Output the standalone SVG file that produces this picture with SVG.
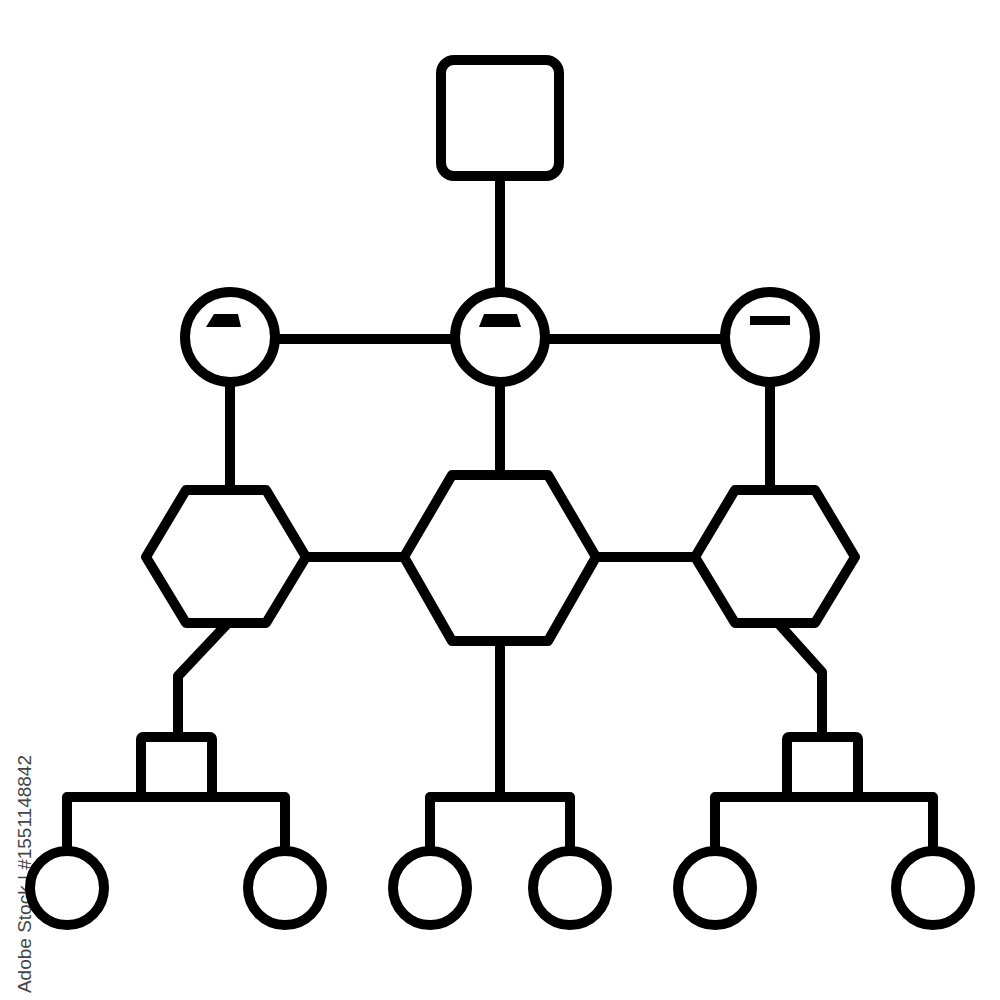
<svg xmlns="http://www.w3.org/2000/svg" width="1000" height="1000" viewBox="0 0 1000 1000">
<style>
.s{fill:none;stroke:#000;stroke-width:10;stroke-linejoin:round;stroke-linecap:round}
.n{fill:#fff;stroke:#000;stroke-width:10;stroke-linejoin:round}
.m{fill:#000;stroke:none}
.wm{font-family:"Liberation Sans",Arial,sans-serif;font-size:19px;fill:#444}
</style>
<rect width="1000" height="1000" fill="#fff"/>
<text class="wm" transform="translate(31,755) rotate(-90)" text-anchor="end">Adobe Stock | #1551148842</text>
<g id="connectors" class="s">
<line x1="500" y1="176" x2="500" y2="295"/>
<line x1="275" y1="339" x2="455" y2="339"/>
<line x1="545" y1="339" x2="725" y2="339"/>
<line x1="230" y1="383" x2="230" y2="490"/>
<line x1="500" y1="383" x2="500" y2="470"/>
<line x1="770" y1="383" x2="770" y2="490"/>
<line x1="306" y1="557" x2="404" y2="557"/>
<line x1="596" y1="557" x2="695" y2="557"/>
<polyline points="228,623 178,676 178,737"/>
<polyline points="778,623 822,672 822,737"/>
<line x1="500" y1="641" x2="500" y2="797"/>
<polyline points="67,850 67,797 285,797 285,850"/>
<polyline points="430,850 430,797 570,797 570,850"/>
<polyline points="715,850 715,797 933,797 933,850"/>
</g>
<g id="root"><rect class="n" x="441" y="60" width="118" height="116" rx="13"/></g>
<g id="c1"><circle class="n" cx="230" cy="337" r="45"/><polygon class="m" points="214,314 238,314 241,327 206,327"/></g>
<g id="c2"><circle class="n" cx="500" cy="337" r="45"/><polygon class="m" points="484,314 517,314 521,327 479,327"/></g>
<g id="c3"><circle class="n" cx="770" cy="337" r="45"/><rect class="m" x="750" y="316" width="40" height="9"/></g>
<g id="h1"><polygon class="n" points="146,557 186,490 266,490 306,557 266,623 186,623"/></g>
<g id="h2"><polygon class="n" points="404,557 452,475 548,475 596,557 548,641 452,641"/></g>
<g id="h3"><polygon class="n" points="695,557 735,490 815,490 855,557 815,623 735,623"/></g>
<g id="b1"><rect class="n" x="141" y="737" width="71" height="60" rx="2"/></g>
<g id="b2"><rect class="n" x="787" y="737" width="71" height="60" rx="2"/></g>
<g id="l1"><circle class="n" cx="67" cy="888" r="37"/></g>
<g id="l2"><circle class="n" cx="285" cy="888" r="37"/></g>
<g id="l3"><circle class="n" cx="430" cy="888" r="37"/></g>
<g id="l4"><circle class="n" cx="570" cy="888" r="37"/></g>
<g id="l5"><circle class="n" cx="715" cy="888" r="37"/></g>
<g id="l6"><circle class="n" cx="933" cy="888" r="37"/></g>
</svg>
